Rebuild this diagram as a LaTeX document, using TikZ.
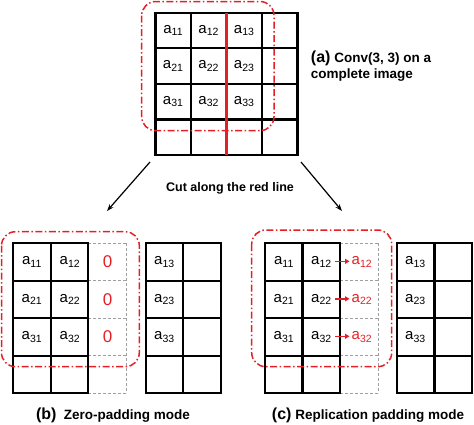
\documentclass[tikz,border=0pt]{standalone}
\usepackage{fontspec}
\setmainfont{Liberation Sans}
\usetikzlibrary{arrows.meta}
\definecolor{cutred}{RGB}{228,32,38}

\tikzset{
  gridline/.style={line width=2.1pt, line cap=rect},
  padline/.style={gray!75, line width=1pt, dash pattern=on 3pt off 2pt},
  window/.style={cutred, line width=1.5pt, rounded corners=14pt,
    dash pattern=on 7pt off 2.5pt on 1.5pt off 2.5pt},
  entry/.style={inner sep=2pt, font=\fontsize{15}{17}\selectfont},
  padentry/.style={entry, text=cutred},
  caption/.style={font=\bfseries\fontsize{13.5}{16}\selectfont},
  split/.style={line width=1.2pt, -{Stealth[length=7pt,width=5pt]}},
  copy/.style={cutred, line width=1.5pt, -{Triangle[length=4.5pt,width=5pt]}}
}

\begin{document}
\begin{tikzpicture}[x=1pt,y=-1pt]
\useasboundingbox (0,0) rectangle (474,424);

% (a) complete image
\foreach \i in {0,...,4} {
  \draw[gridline] (155.5+35.5*\i,12.7) -- (155.5+35.5*\i,155.1);
  \draw[gridline] (155.5,12.7+35.6*\i) -- (297.5,12.7+35.6*\i);
}
\draw[cutred, line width=2.1pt] (226.5,12.7) -- (226.5,155.1);
\foreach \r in {1,2,3}
  \foreach \c in {1,2,3}
    \node[entry] (a\r\c) at (155.5+35.5*\c-17.75,12.7+35.6*\r-17.8) {a\textsubscript{\r\c}};
\draw[window] (141.7,1.5) rectangle (274,130.7);

\node[caption, align=left] (capa) at (371,66)
  {{\fontsize{16}{16}\selectfont (a)} Conv(3, 3) on a\\ complete image};

\coordinate (al) at (150,162);
\coordinate (bl) at (107,211);
\coordinate (ar) at (301,162);
\coordinate (br) at (342,211);
\draw[split] (al) -- (bl);
\draw[split] (ar) -- (br);
\node[font=\bfseries\fontsize{12.5}{14}\selectfont] (cut) at (230,188) {Cut along the red line};

% (b) zero padding
\foreach \i in {0,...,4}
  \draw[padline] (88.3,243.3+37.5*\i) -- (126.8,243.3+37.5*\i);
\draw[padline] (126.8,243.3) -- (126.8,393.3);
\foreach \i in {0,1,2}
  \draw[gridline] (13.3+37.5*\i,243.3) -- (13.3+37.5*\i,393.3);
\foreach \i in {0,1,2}
  \draw[gridline] (145.7+37.5*\i,243.3) -- (145.7+37.5*\i,393.3);
\foreach \i in {0,...,4} {
  \draw[gridline] (13.3,243.3+37.5*\i) -- (88.3,243.3+37.5*\i);
  \draw[gridline] (145.7,243.3+37.5*\i) -- (220.7,243.3+37.5*\i);
}
\foreach \r in {1,2,3} {
  \node[entry] (b\r1) at (32,243.3+37.5*\r-18.75) {a\textsubscript{\r1}};
  \node[entry] (b\r2) at (70,243.3+37.5*\r-18.75) {a\textsubscript{\r2}};
  \node[padentry, font=\fontsize{17}{18}\selectfont] (z\r) at (107.5,243.3+37.5*\r-18.75) {0};
  \node[entry] (b\r3) at (164.5,243.3+37.5*\r-18.75) {a\textsubscript{\r3}};
}
\draw[window] (1.5,231.7) rectangle (139.3,366.7);
\node[caption] (capb) at (113,415) {{\fontsize{16}{16}\selectfont (b)}\ \ Zero-padding mode};

% (c) replication padding
\foreach \i in {0,...,4}
  \draw[padline] (340,243.3+37.5*\i) -- (378.5,243.3+37.5*\i);
\draw[padline] (378.5,243.3) -- (378.5,393.3);
\foreach \i in {0,1,2}
  \draw[gridline] (265+37.5*\i,243.3) -- (265+37.5*\i,393.3);
\foreach \i in {0,1,2}
  \draw[gridline] (397+37.5*\i,243.3) -- (397+37.5*\i,393.3);
\foreach \i in {0,...,4} {
  \draw[gridline] (265,243.3+37.5*\i) -- (340,243.3+37.5*\i);
  \draw[gridline] (397,243.3+37.5*\i) -- (472,243.3+37.5*\i);
}
\foreach \r in {1,2,3} {
  \node[entry] (c\r1) at (284,243.3+37.5*\r-18.75) {a\textsubscript{\r1}};
  \node[entry] (c\r2) at (321.5,243.3+37.5*\r-18.75) {a\textsubscript{\r2}};
  \node[padentry] (p\r) at (362,243.3+37.5*\r-18.75) {a\textsubscript{\r2}};
  \node[entry] (c\r3) at (415.5,243.3+37.5*\r-18.75) {a\textsubscript{\r3}};
  \coordinate (s\r) at (335,243.3+37.5*\r-19.5);
  \draw[copy] (s\r) -- (p\r.west |- s\r);
}
\draw[window] (251.7,230) rectangle (391.7,366.7);
\node[caption] (capc) at (368,415) {{\fontsize{16}{16}\selectfont (c)} Replication padding mode};

\end{tikzpicture}
\end{document}
